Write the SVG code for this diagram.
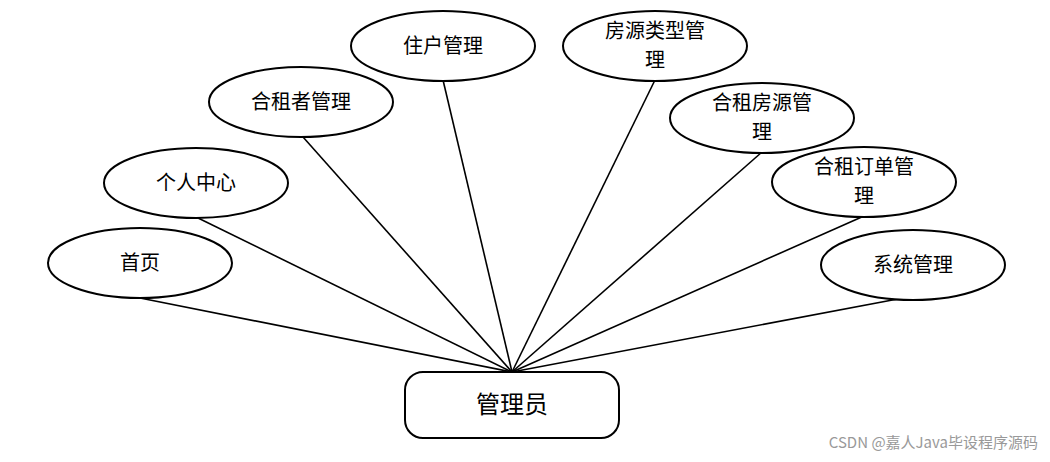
<svg xmlns="http://www.w3.org/2000/svg" width="1050" height="462" viewBox="0 0 1050 462">
<style>
.n{fill:#fff;stroke:#000;stroke-width:2}
.t{font-family:"Noto Sans CJK SC",sans-serif;font-size:20px;text-anchor:middle;fill:#000}
.c line{stroke:#000;stroke-width:1.6}
</style>
<rect width="1050" height="462" fill="#fff"/>
<g class="c" id="connectors">
<line x1="512" y1="372" x2="140" y2="298"/>
<line x1="512" y1="372" x2="196" y2="217"/>
<line x1="512" y1="372" x2="303" y2="137"/>
<line x1="512" y1="372" x2="443" y2="80"/>
<line x1="512" y1="372" x2="655" y2="80"/>
<line x1="512" y1="372" x2="762" y2="152"/>
<line x1="512" y1="372" x2="864" y2="216"/>
<line x1="512" y1="372" x2="903" y2="298"/>
</g>
<g id="n1"><ellipse class="n" cx="140" cy="263" rx="92" ry="35"/><text class="t" x="140" y="270">首页</text></g>
<g id="n2"><ellipse class="n" cx="196" cy="183" rx="92" ry="35"/><text class="t" x="196" y="190">个人中心</text></g>
<g id="n3"><ellipse class="n" cx="301" cy="102" rx="92" ry="35"/><text class="t" x="301" y="109">合租者管理</text></g>
<g id="n4"><ellipse class="n" cx="443" cy="46" rx="92" ry="35"/><text class="t" x="443" y="53">住户管理</text></g>
<g id="n5"><ellipse class="n" cx="655" cy="46" rx="92" ry="35"/><text class="t" x="655" y="38">房源类型管</text><text class="t" x="655" y="67">理</text></g>
<g id="n6"><ellipse class="n" cx="762" cy="118" rx="92" ry="35"/><text class="t" x="762" y="110">合租房源管</text><text class="t" x="762" y="139">理</text></g>
<g id="n7"><ellipse class="n" cx="864" cy="182" rx="92" ry="35"/><text class="t" x="864" y="174">合租订单管</text><text class="t" x="864" y="203">理</text></g>
<g id="n8"><ellipse class="n" cx="913" cy="265" rx="92" ry="35"/><text class="t" x="913" y="272">系统管理</text></g>
<g id="n9"><rect class="n" x="405" y="372" width="214" height="66" rx="18"/><text class="t" x="512" y="413" style="font-size:24px">管理员</text></g>
<text x="1038" y="448" style="font-family:'Noto Sans CJK SC',sans-serif;font-size:15px;text-anchor:end;fill:#999">CSDN @嘉人Java毕设程序源码</text>
</svg>
